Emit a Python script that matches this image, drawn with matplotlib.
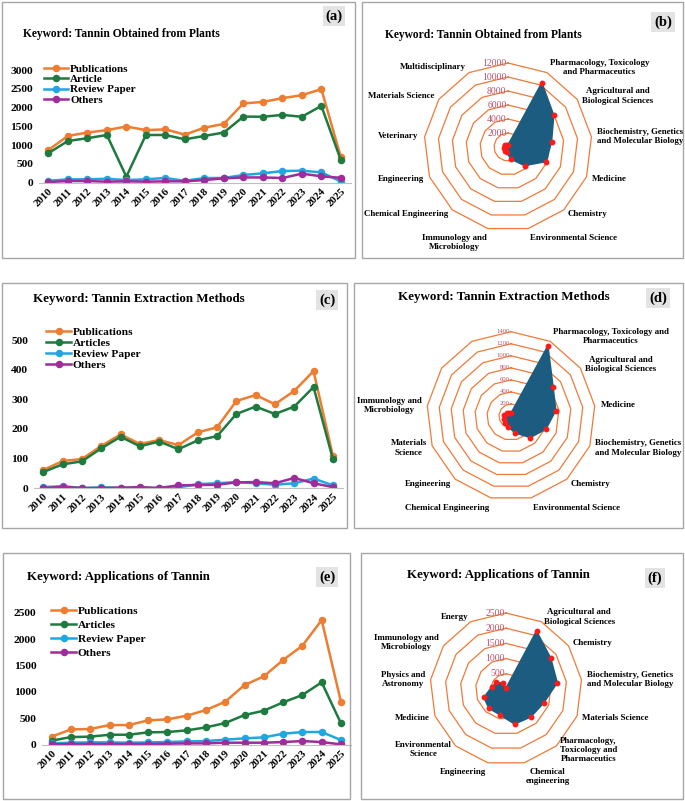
import numpy as np
import matplotlib
matplotlib.use("Agg")
import matplotlib.pyplot as plt
from matplotlib.patches import Rectangle

plt.rcParams['font.family'] = ['Liberation Serif', 'DejaVu Serif']
plt.rcParams['font.weight'] = 'bold'

W, H = 685, 801

years = list(range(2010, 2026))

# (a) Tannin obtained from plants
a_pub = [870, 1245, 1335, 1400, 1495, 1400, 1420, 1280, 1465, 1565, 2110, 2150, 2250, 2330, 2490, 680]
a_art = [785, 1110, 1185, 1270, 160, 1270, 1270, 1155, 1245, 1335, 1760, 1755, 1805, 1755, 2045, 600]
a_rev = [50, 90, 90, 105, 70, 90, 125, 50, 125, 125, 205, 250, 310, 320, 275, 30]
a_oth = [18, 44, 44, 27, 36, 27, 36, 36, 70, 115, 140, 140, 125, 240, 170, 130]

# (c) Tannin extraction methods
c_pub = [61, 91, 98, 142, 181, 149, 162, 145, 188, 205, 294, 314, 283, 328, 395, 109]
c_art = [54, 80, 90, 134, 173, 141, 157, 131, 161, 175, 250, 275, 250, 275, 341, 98]
c_rev = [3, 6, 0, 2, 1, 0, 0, 2, 13, 16, 20, 16, 11, 16, 32, 9]
c_oth = [0, 4, 0, 0, 1, 3, 0, 9, 10, 11, 19, 20, 16, 34, 16, 3]

# (e) Applications of tannin
e_pub = [152, 290, 297, 372, 372, 461, 480, 549, 657, 814, 1130, 1294, 1604, 1875, 2361, 810]
e_art = [76, 145, 152, 189, 189, 234, 240, 271, 328, 410, 562, 644, 802, 941, 1181, 404]
e_rev = [25, 38, 44, 44, 38, 44, 50, 63, 69, 95, 120, 139, 208, 240, 240, 88]
e_oth = [6, 13, 13, 13, 13, 13, 19, 25, 25, 38, 38, 38, 50, 69, 50, 6]

# radar (b)
b_cats = ["", "Pharmacology, Toxicology\nand Pharmaceutics", "Agricultural and\nBiological Sciences",
          "Biochemistry, Genetics\nand Molecular Biology", "Medicine", "Chemistry",
          "Environmental Science", "Immunology and\nMicrobiology", "Chemical Engineering",
          "Engineering", "Veterinary", "Materials Science", "Multidisciplinary"]
b_vals = [300, 10400, 7960, 6270, 5860, 3560, 1800, 800, 700, 600, 500, 450, 400]

# radar (d)
d_cats = ["", "Pharmacology, Toxicology and\nPharmaceutics", "Agricultural and\nBiological Sciences",
          "Medicine", "Biochemistry, Genetics\nand Molecular Biology", "Chemistry",
          "Environmental Science", "Chemical Engineering", "Engineering", "Materials\nScience",
          "Immunology and\nMicrobiology", "", ""]
d_vals = [50, 1320, 850, 750, 620, 480, 290, 190, 150, 130, 110, 80, 60]

# radar (f)
f_cats = ["", "Agricultural and\nBiological Sciences", "Chemistry",
          "Biochemistry, Genetics\nand Molecular Biology", "Materials Science",
          "Pharmacology,\nToxicology and\nPharmaceutics", "Chemical\nengineering", "Engineering",
          "Environmental\nScience", "Medicine", "Physics and\nAstronomy", "Immunology and\nMicrobiology",
          "Energy"]
f_vals = [30, 2160, 1790, 1700, 1320, 1230, 1190, 870, 850, 780, 480, 380, 220]

col_pub = '#ED7D31'
col_art = '#1E7A3E'
col_rev = '#1EA7E1'
col_oth = '#A02B9A'
ring_col = '#F07A38'
fill_col = '#1B5C80'
num_col = '#C0506A'

fig = plt.figure(figsize=(W / 100, H / 100), dpi=100)


def fbox(x0, y0, x1, y1):
    return [x0 / W, 1 - y1 / H, (x1 - x0) / W, (y1 - y0) / H]


def fx(x):
    return x / W


def fy(y):
    return 1 - y / H


# panel borders
for x0, y0, x1, y1 in [(2, 2, 355, 258), (362, 2, 683, 258), (2, 283, 347, 528),
                       (354, 283, 683, 528), (3, 553, 350, 799), (361, 553, 683, 799)]:
    fig.patches.append(Rectangle((fx(x0), fy(y1)), (x1 - x0) / W, (y1 - y0) / H,
                                 transform=fig.transFigure, fill=False,
                                 edgecolor='#A6A6A6', lw=1.0))


def line_panel(box, ymax, ystep, series, labels, leg_xy, leg_fs, leg_sp):
    ax = fig.add_axes(fbox(*box))
    handles = []
    for vals, c, lab in zip(series, [col_pub, col_art, col_rev, col_oth], labels):
        h, = ax.plot(years, vals, '-o', color=c, lw=1.8, ms=4.4, label=lab)
        handles.append(h)
    ax.set_xlim(2009.5, 2025.5)
    ax.set_ylim(0, ymax)
    ax.set_xticks(years)
    ax.set_xticklabels([str(y) for y in years], rotation=45, ha='right',
                       rotation_mode='anchor', fontsize=7.8, fontweight='bold')
    ax.set_yticks(np.arange(0, ymax + 1, ystep))
    ax.tick_params(axis='y', length=0, labelsize=8.2, pad=4)
    ax.tick_params(axis='x', length=0, pad=3)
    for s in ['top', 'right', 'left']:
        ax.spines[s].set_visible(False)
    ax.spines['bottom'].set_color('#BFBFBF')
    ax.spines['bottom'].set_linewidth(0.8)
    ax.patch.set_alpha(0)
    fig.legend(handles=handles, loc='upper left',
               bbox_to_anchor=(fx(leg_xy[0]), fy(leg_xy[1])),
               bbox_transform=fig.transFigure, frameon=False,
               prop={'family': 'Liberation Serif', 'weight': 'bold', 'size': leg_fs},
               handlelength=2.2, handletextpad=0.15, labelspacing=leg_sp,
               borderpad=0, borderaxespad=0)
    return ax


line_panel((38.6, 70, 350.6, 182.7), 3000, 500, [a_pub, a_art, a_rev, a_oth],
           ["Publications", "Article", "Review Paper", "Others"], (44, 64), 8, 0.05)
line_panel((33.7, 340, 342.5, 488), 500, 100, [c_pub, c_art, c_rev, c_oth],
           ["Publications", "Articles", "Review Paper", "Others"], (46, 327), 8.2, 0.1)
line_panel((42, 612.7, 350.6, 744.7), 2500, 500, [e_pub, e_art, e_rev, e_oth],
           ["Publications", "Articles", "Review Paper", "Others"], (51, 606), 8.2, 0.35)


def radar_panel(cx, cy, R, vmax, vstep, cats, vals, num_fs, lab_fs):
    ax = fig.add_axes(fbox(cx - R, cy - R, cx + R, cy + R), projection='polar')
    ax.set_theta_zero_location('N')
    ax.set_theta_direction(-1)
    ax.set_ylim(0, vmax)
    ax.axis('off')
    n = len(cats)
    ang = np.linspace(0, 2 * np.pi, n, endpoint=False)
    angc = np.append(ang, ang[0])
    for t in np.arange(vstep, vmax + 1, vstep):
        ax.plot(angc, [t] * (n + 1), color=ring_col, lw=0.9, clip_on=False)
    for t in np.arange(0, vmax + 1, vstep):
        ax.annotate(str(int(t)), (0, t), xytext=(-1, 0), textcoords='offset points',
                    ha='right', va='center', color=num_col, fontsize=num_fs,
                    fontweight='normal', annotation_clip=False)
    v = np.array(vals, dtype=float)
    ax.fill(angc, np.append(v, v[0]), color=fill_col, zorder=3)
    ax.plot(ang, v, 'o', color='#FF1A1A', ms=3.2, zorder=4, clip_on=False)
    for a, lab in zip(ang, cats):
        if not lab:
            continue
        s, c = np.sin(a), np.cos(a)
        ha = 'left' if s > 0.15 else ('right' if s < -0.15 else 'center')
        va = 'center'
        if c < -0.85:
            va = 'top'
        ax.text(a, vmax * 1.07, lab, ha=ha, va=va, fontsize=lab_fs,
                fontweight='bold', multialignment='center', clip_on=False)
    return ax


radar_panel(508, 147, 84, 12000, 2000, b_cats, b_vals, 7, 6.4)
radar_panel(511, 416, 84.3, 1400, 200, d_cats, d_vals, 4.8, 6.4)
radar_panel(506, 689, 76, 2500, 500, f_cats, f_vals, 7, 6.4)

# titles
titles = [("Keyword: Tannin Obtained from Plants", 23, 34, 8.3),
          ("Keyword: Tannin Obtained from Plants", 385, 35, 8.3),
          ("Keyword: Tannin Extraction Methods", 33, 299, 9.4),
          ("Keyword: Tannin Extraction Methods", 398, 297, 9.4),
          ("Keyword: Applications of Tannin", 27, 577, 9.3),
          ("Keyword: Applications of Tannin", 407, 575, 9.3)]
for txt, x, y, fs in titles:
    fig.text(fx(x), fy(y), txt, ha='left', va='center', fontsize=fs, fontweight='bold')

# panel letters
for txt, x, y in [("(a)", 334, 16), ("(b)", 663, 22), ("(c)", 327, 300),
                  ("(d)", 658, 298), ("(e)", 327, 577), ("(f)", 655, 578)]:
    fig.text(fx(x), fy(y), txt, ha='center', va='center', fontsize=10.5, fontweight='bold',
             bbox=dict(boxstyle='square,pad=0.2', facecolor='#E3E3E3', edgecolor='none'))

fig.savefig("out.png", dpi=100)
